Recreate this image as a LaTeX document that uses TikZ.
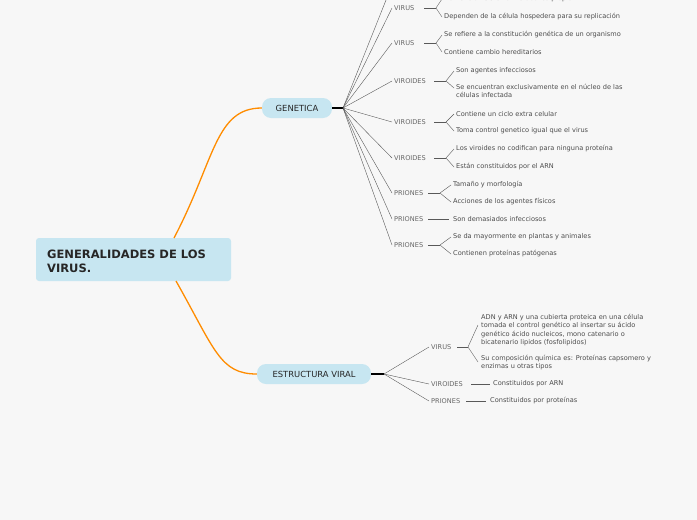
\documentclass[tikz,border=0pt]{standalone}
\usepackage{fontspec}
\setmainfont{DejaVu Sans}
\begin{document}
\begin{tikzpicture}[x=1pt,y=-1pt,
  txt/.style={anchor=west,inner sep=0pt,text=black!70,font=\fontsize{6.6}{8.3}\selectfont,align=left},
  lbl/.style={anchor=west,inner sep=0pt,text=black!60,font=\fontsize{6.6}{8}\selectfont},
  pill/.style={fill=pillc,rounded corners=9pt,minimum height=20pt,font=\fontsize{8.4}{9}\selectfont,text=black!85,inner sep=0pt},
  ln/.style={draw=black!65,line width=0.4pt},
  org/.style={draw=orange!90!yellow,line width=1.3pt}]
\definecolor{pillc}{HTML}{C7E6F1}
\useasboundingbox (0,0) rectangle (697,520);
\clip (0,0) rectangle (697,520);
\fill[black!3] (0,0) rectangle (697,520);
% root
\node[fill=pillc,rounded corners=3pt,minimum width=195pt,minimum height=43pt,inner sep=0pt] (root) at (133.5,259.5) {};
\node[anchor=north west,inner sep=0pt,align=left,font=\bfseries\fontsize{11.5}{14}\selectfont,text=black!85] (roott) at (47,249.5) {GENERALIDADES DE LOS\\VIRUS.};
\node[pill,minimum width=70pt] (gen) at (297,108) {GENETICA};
\node[pill,minimum width=114pt] (est) at (314,374) {ESTRUCTURA VIRAL};
\coordinate (o1) at (174,238); \coordinate (o2) at (176,281);
\draw[org] (o1) .. controls (215,160) and (215,108) .. (gen.west);
\draw[org] (o2) .. controls (215,350) and (220,374) .. (est.west);
\coordinate (h1) at (343,108);
\draw[line width=1.2pt] (gen.east) -- (h1);
% genetica labels
\coordinate (up) at (398,-30);
\draw[ln] (h1) -- (up);
\foreach \n/\y/\t in {a/8/VIRUS,b/43/VIRUS,c/81/VIROIDES,d/122/VIROIDES,e/158/VIROIDES,f/193/PRIONES,g/219/PRIONES,h/245/PRIONES}{
  \node[lbl] (\n) at (394,\y) {\t};
  \draw[ln] (h1) -- ([xshift=-2pt]\n.west);
}
\newcommand{\fork}[7]{%
  \coordinate (#1s) at (#2,#4); \coordinate (#1e) at (#3,#4);
  \draw[ln] (#1s) -- (#1e);
  \coordinate (#1k1) at (#5,#6); \coordinate (#1k2) at (#5,#7);
  \draw[ln] (#1e) -- (#1k1); \draw[ln] (#1e) -- (#1k2);}
\fork{a}{424}{436}{8}{442}{-1}{17}
\node[txt] at (444,-1) {No tiene un sistema metabólico propio};
\node[txt] at (444,17) {Dependen de la célula hospedera para su replicación};
\fork{b}{424}{436}{43}{442}{35}{52}
\node[txt] at (444,35) {Se refiere a la constitución genética de un organismo};
\node[txt] at (444,52) {Contiene cambio hereditarios};
\fork{c}{434}{446}{81}{454}{71}{88}
\node[txt] at (456,71) {Son agentes infecciosos};
\node[txt,anchor=north west] at (456,84) {Se encuentran exclusivamente en el núcleo de las\\células infectada};
\fork{d}{434}{446}{122}{454}{114}{131}
\node[txt] at (456,114) {Contiene un ciclo extra celular};
\node[txt] at (456,131) {Toma control genetico igual que el virus};
\fork{e}{434}{446}{158}{454}{149}{167}
\node[txt] at (456,149) {Los viroides no codifican para ninguna proteína};
\node[txt] at (456,167) {Están constituidos por el ARN};
\fork{f}{428}{440}{193}{451}{185}{202}
\node[txt] at (453,185) {Tamaño y morfología};
\node[txt] at (453,202) {Acciones de los agentes físicos};
\coordinate (gs) at (428,219); \coordinate (ge) at (449,219);
\draw[ln] (gs) -- (ge);
\node[txt] at (453,219) {Son demasiados infecciosos};
\fork{h}{428}{440}{245}{451}{237}{254}
\node[txt] at (453,237) {Se da mayormente en plantas y animales};
\node[txt] at (453,254) {Contienen proteínas patógenas};
% estructura
\coordinate (h2) at (384,374);
\draw[line width=1.2pt] (est.east) -- (h2);
\foreach \n/\y/\t in {i/347/VIRUS,j/384/VIROIDES,k/401/PRIONES}{
  \node[lbl] (\n) at (431,\y) {\t};
  \draw[ln] (h2) -- ([xshift=-2pt]\n.west);
}
\fork{i}{457}{468}{347}{478}{325}{362}
\node[txt,anchor=north west] at (481,314) {ADN y ARN y una cubierta proteica en una célula\\tomada el control genético al insertar su ácido\\genético ácido nucleicos, mono catenario o\\bicatenario lipidos (fosfolipidos)};
\node[txt,anchor=north west] at (481,355) {Su composición química es: Proteínas capsomero y\\enzimas u otras tipos};
\coordinate (js) at (471,384); \coordinate (je) at (490,384);
\draw[ln] (js) -- (je);
\node[txt] at (493,384) {Constituidos por ARN};
\coordinate (ks) at (466,401); \coordinate (ke) at (486,401);
\draw[ln] (ks) -- (ke);
\node[txt] at (490,401) {Constituidos por proteínas};
\end{tikzpicture}
\end{document}
